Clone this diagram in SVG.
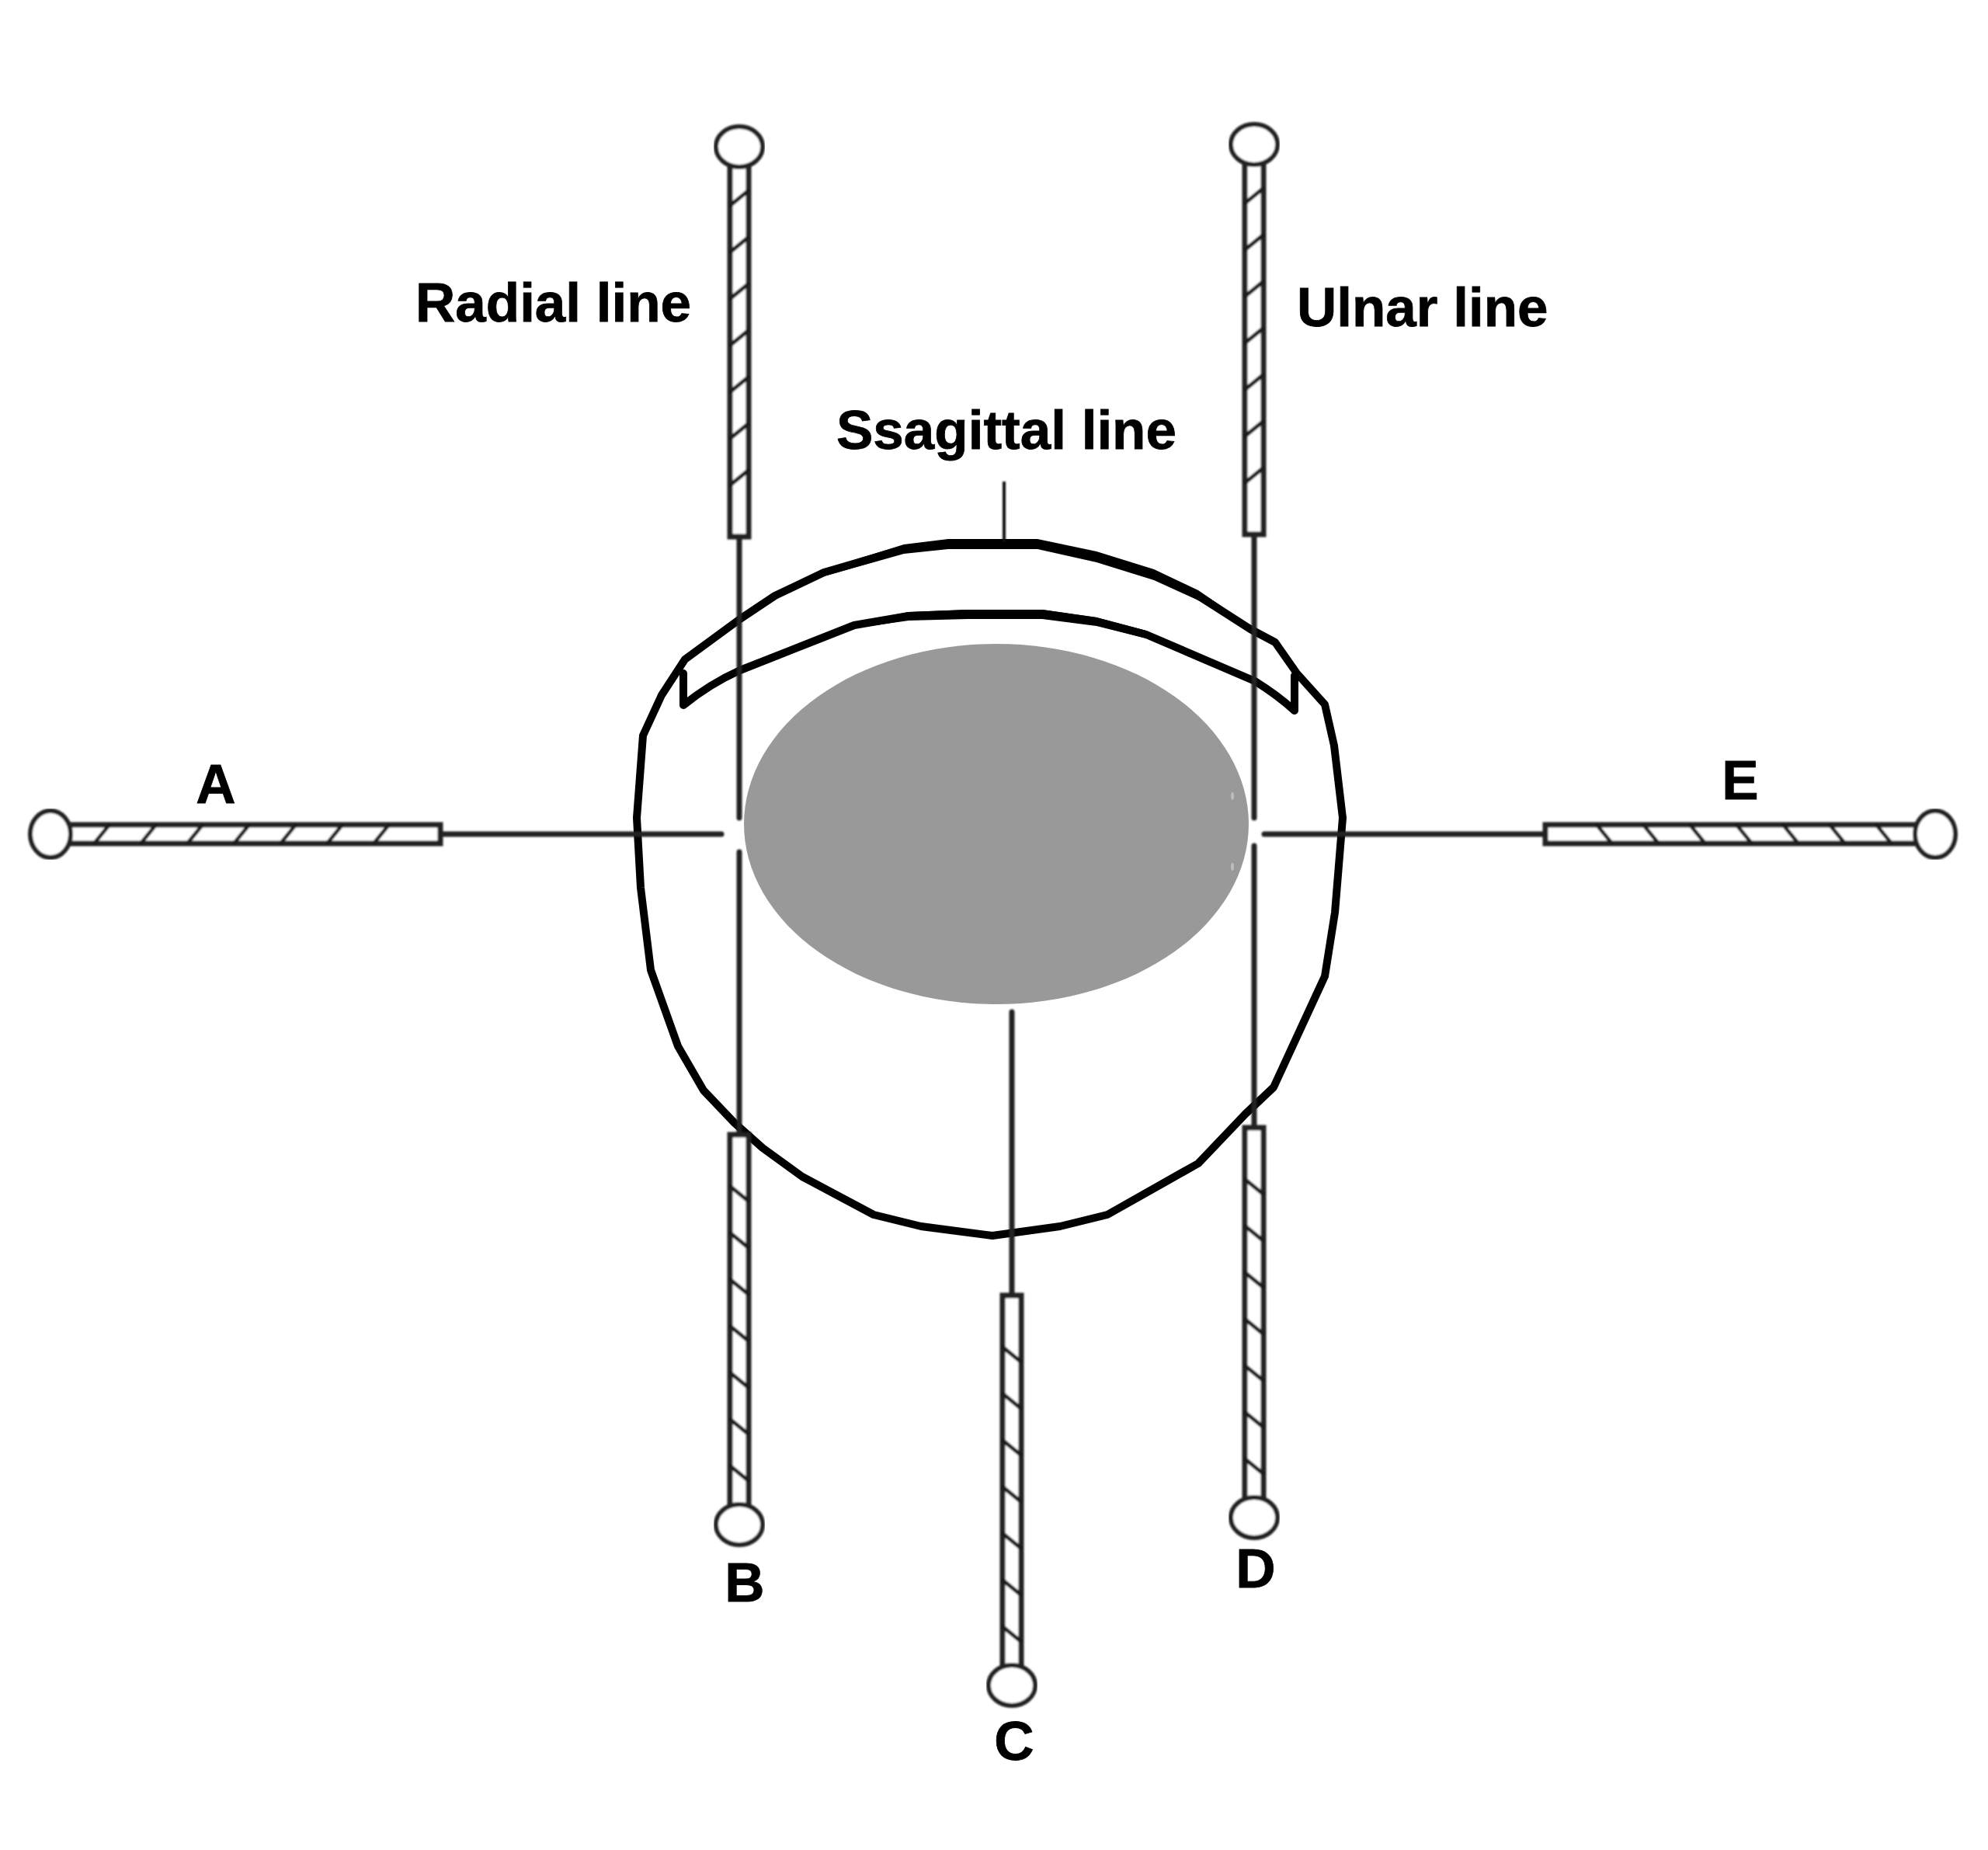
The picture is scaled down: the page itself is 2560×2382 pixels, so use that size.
<svg xmlns="http://www.w3.org/2000/svg" width="2560" height="2382" viewBox="0 0 2560 2382">
  <style>
    .label { font-family: "Liberation Sans", Arial, sans-serif; font-weight: 700; font-size: 71px; fill: #000; stroke: #000; stroke-width: 0.8; }
    .mid { text-anchor: middle; }
    .wall { fill: none; stroke: #000; stroke-width: 10; stroke-linejoin: round; stroke-linecap: round; }
    .shaft { fill: #fff; stroke: #222; stroke-width: 7; }
    .twist { fill: none; stroke: #1c1c1c; stroke-width: 5; stroke-linecap: round; }
    .wire { fill: none; stroke: #222; stroke-width: 7; stroke-linecap: round; }
    .head { fill: #fff; stroke: #222; stroke-width: 6; }
  </style>
  <defs>
    <filter id="soft" x="-5%" y="-5%" width="110%" height="110%"><feGaussianBlur stdDeviation="0.9"/></filter>
    <!-- needle handle: head at the origin, shaft running along +x -->
    <g id="handle">
      <rect class="shaft" x="24" y="-12" width="478" height="24"/>
      <path class="twist" d="M57 11L75 -11M117 11L135 -11M177 11L195 -11M237 11L255 -11M297 11L315 -11M357 11L375 -11M417 11L435 -11"/>
      <ellipse class="head" cx="0" cy="0" rx="26" ry="30"/>
    </g>
  </defs>
  <rect width="2560" height="2382" fill="#fff"/>

  <g id="globe">
    <path class="wall" d="M1221 700L1164 707L1061 737L998 767L953 797L882 849L852 895L828 947L820 1053L825 1143L838 1249L873 1347L906 1404L946 1446L982 1478L1033 1515L1125 1564L1186 1579L1278 1591L1365 1579L1426 1564L1543 1498L1604 1434L1640 1400L1706 1257L1719 1175L1729 1053L1718 960L1706 907L1670 867L1642 827L1610 810L1543 767L1486 740L1412 717L1336 700Z"/>
    <!-- the rim swells towards the crown -->
    <path fill="#000" d="M1000 764L1061 733L1164 701L1221 694L1336 694L1412 710L1486 733L1543 760L1610 806L1612 815L1543 773L1486 747L1412 724L1336 707L1221 707L1164 713L1061 742Z"/>
    <path class="wall" stroke-width="8" d="M880 867L880 908Q915 880 953 863L1100 805L1170 793L1246 790L1342 790L1412 800L1476 817L1616 877Q1645 895 1667 915L1667 870"/>
    <path fill="#000" d="M1100 802L1170 788L1246 785L1342 785L1412 795L1476 812L1476 822L1412 806L1342 797L1246 797L1170 799L1100 809Z"/>
    <ellipse cx="1283" cy="1061" rx="325" ry="232" fill="#999"/>
    <ellipse cx="1587" cy="1025" rx="2" ry="5" fill="#bdbdbd"/>
    <ellipse cx="1587" cy="1116" rx="2" ry="5" fill="#bdbdbd"/>
  </g>

  <g id="connectors" filter="url(#soft)">
    <path class="wire" d="M568 1074H929M1628 1074H1990M952 690V1053M952 1097V1461M1615 687V1053M1615 1089V1453M1303 1303V1667"/>
    <path fill="none" stroke="#111" stroke-width="4" d="M1293 620V698"/>
  </g>

  <g id="needle-a" filter="url(#soft)"><use href="#handle" transform="translate(65 1074)"/></g>
  <g id="needle-e" filter="url(#soft)"><use href="#handle" transform="translate(2492 1074) scale(-1 1)"/></g>
  <g id="needle-radial-top" filter="url(#soft)"><use href="#handle" transform="translate(952 189) rotate(90) scale(1 -1)"/></g>
  <g id="needle-ulnar-top" filter="url(#soft)"><use href="#handle" transform="translate(1615 186) rotate(90) scale(1 -1)"/></g>
  <g id="needle-b" filter="url(#soft)"><use href="#handle" transform="translate(952 1963) rotate(-90)"/></g>
  <g id="needle-c" filter="url(#soft)"><use href="#handle" transform="translate(1303 2170) rotate(-90)"/></g>
  <g id="needle-d" filter="url(#soft)"><use href="#handle" transform="translate(1615 1954) rotate(-90)"/></g>

  <g id="labels">
    <text class="label" x="535" y="414">Radial line</text>
    <text class="label" x="1670" y="420">Ulnar line</text>
    <text class="label" x="1077" y="578">Ssagittal line</text>
    <text class="label mid" x="278" y="1034">A</text>
    <text class="label mid" x="2241" y="1029">E</text>
    <text class="label mid" x="959" y="2062">B</text>
    <text class="label mid" x="1306" y="2266">C</text>
    <text class="label mid" x="1617" y="2044">D</text>
  </g>
</svg>
